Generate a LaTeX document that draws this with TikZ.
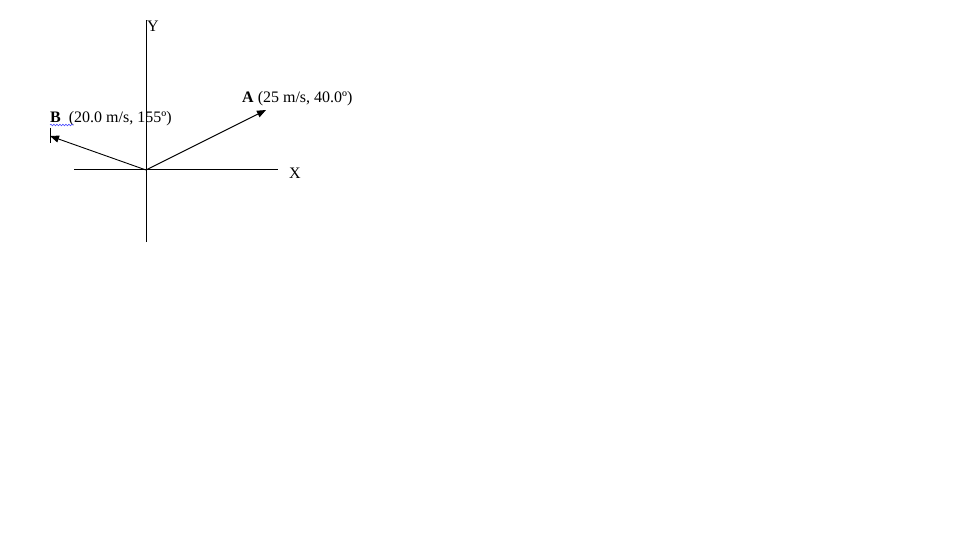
\documentclass[tikz,border=0pt]{standalone}
\usepackage{fontspec}
\setmainfont{Liberation Serif}
\usetikzlibrary{arrows.meta,decorations.pathmorphing}
\begin{document}
\begin{tikzpicture}[x=1pt,y=-1pt,
  axis/.style={line width=1pt,black},
  vec/.style={line width=0.9pt,black,-{Triangle[length=9pt,width=7pt]}},
  lbl/.style={inner sep=0pt,anchor=west,font=\fontsize{16}{18}\selectfont}]
\useasboundingbox[fill=white] (0,0) rectangle (960,540);
\coordinate (O) at (146,170);
\coordinate (ytop) at (146,20);
\coordinate (ybot) at (146,242);
\coordinate (xl) at (74,170);
\coordinate (xr) at (278,170);
\coordinate (Ae) at (266,110);
\coordinate (Be) at (50,136);
\draw[axis] (ybot) -- (ytop);
\draw[axis] (xl) -- (xr);
\node[lbl] (Y) at (147,26) {Y};
\node[lbl] (X) at (289,173) {X};
\draw[vec] (O) -- (Ae);
\draw[vec] (O) -- (Be);
\node[lbl] (A) at (242,99) {\textbf{A} (25 m/s, 40.0º)};
\node[lbl] (B) at (50,118.5) {\textbf{B}\ \ (20.0 m/s, 155º)};
\coordinate (c1) at (50,128);
\coordinate (c2) at (50,143);
\draw[line width=0.8pt] (c1) -- (c2);
\coordinate (w1) at (50,125);
\coordinate (w2) at (73,125);
\draw[blue!70!white,line width=0.6pt,decorate,decoration={snake,amplitude=0.8pt,segment length=3pt}] (w1) -- (w2);
\end{tikzpicture}
\end{document}
